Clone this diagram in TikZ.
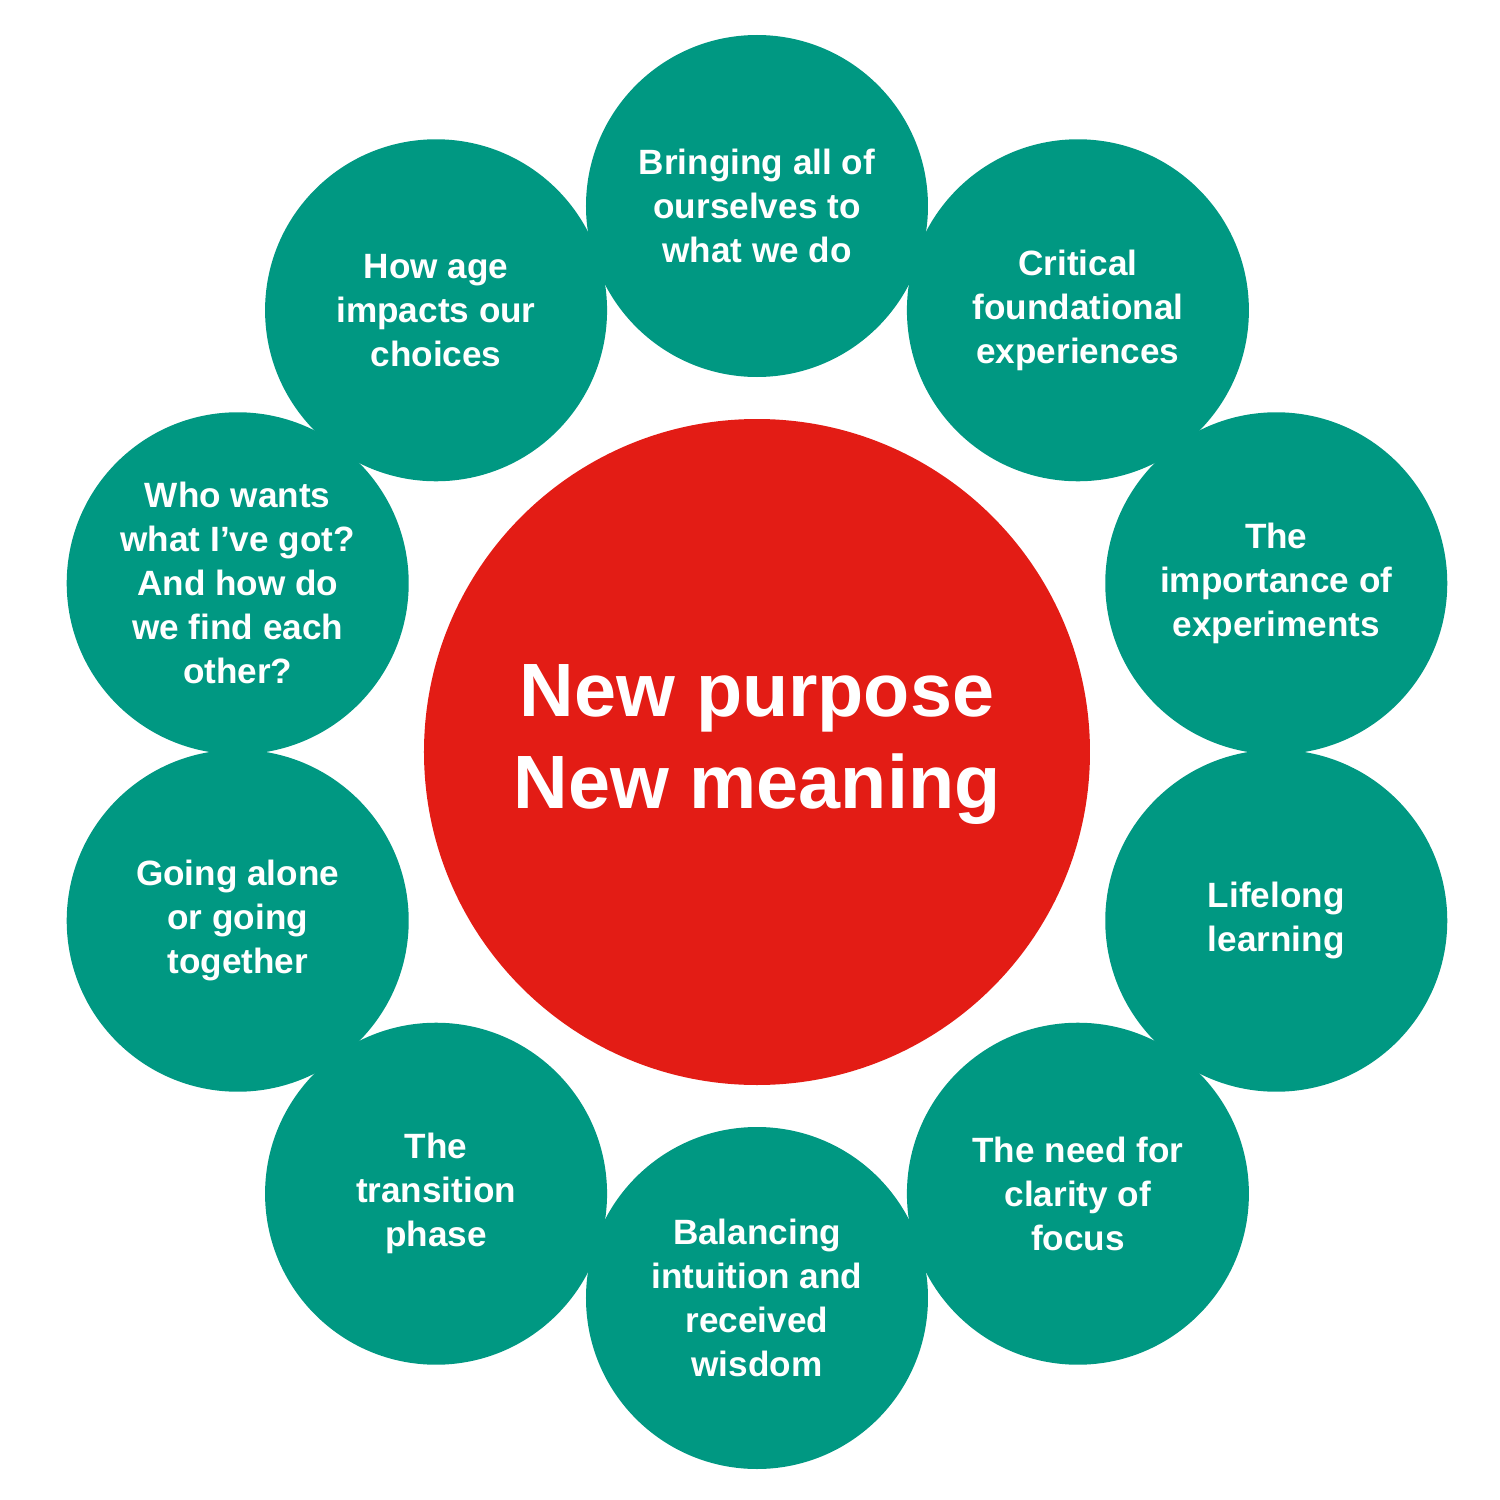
\documentclass[tikz,border=0pt]{standalone}
\usepackage{fontspec}
\setmainfont{Liberation Sans}
\usetikzlibrary{positioning}
\definecolor{myteal}{RGB}{0,152,130}
\definecolor{myred}{RGB}{227,28,21}
\tikzset{
  topic/.style={circle, fill=myteal, minimum size=3.42cm, inner sep=0pt,
    align=center, text=white, font=\fontsize{10}{12.5}\selectfont\bfseries},
  hub/.style={circle, fill=myred, minimum size=6.66cm, inner sep=0pt},
  hubtext/.style={align=center, text=white, inner sep=0pt,
    font=\fontsize{21.5}{25.9}\selectfont\bfseries}
}

\begin{document}
\begin{tikzpicture}
  \useasboundingbox (-7.57,-7.48) rectangle (7.43,7.52);

  % Centre
  \node[hub] (core) at (0,0) {};
  \node[hubtext, anchor=base] (coretext) at ([yshift=-0.56cm]core.center) {New purpose\\New meaning};

  % Ring of topics
  \node[topic] (bringing) at (90:5.46) {Bringing all of\\ourselves to\\what we do};
  \node[topic] (critical) at (54:5.46) {Critical\\foundational\\experiences};
  \node[topic] (experiments) at (18:5.46) {The\\importance of\\experiments};
  \node[topic] (lifelong) at (-18:5.46) {Lifelong\\learning};
  \node[topic] (clarity) at (-54:5.46) {The need for\\clarity of\\focus};
  \node[topic] (balancing) at (-90:5.46) {Balancing\\intuition and\\received\\wisdom};
  \node[topic] (transition) at (-126:5.46) {The\\transition\\phase};
  \node[topic] (alone) at (-162:5.46) {Going alone\\or going\\together};
  \node[topic] (whowants) at (162:5.46) {Who wants\\what I’ve got?\\And how do\\we find each\\other?};
  \node[topic] (age) at (126:5.46) {How age\\impacts our\\choices};

\end{tikzpicture}
\end{document}
